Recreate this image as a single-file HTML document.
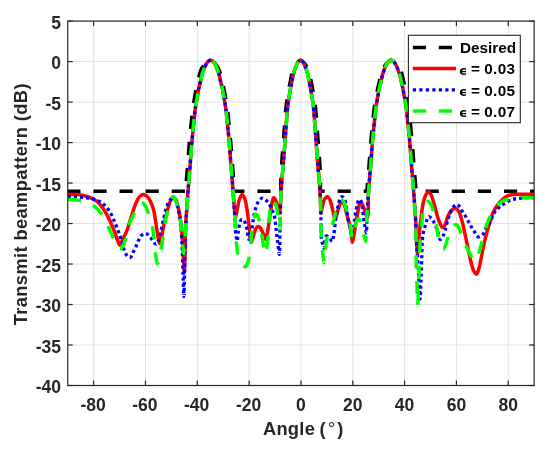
<!DOCTYPE html>
<html><head><meta charset="utf-8"><style>
html,body{margin:0;padding:0;background:#fff;width:550px;height:449px;overflow:hidden}
svg{display:block}
.tk{font-family:"Liberation Sans",Arial,sans-serif;font-weight:bold;font-size:17.5px;fill:#262626}
.al{font-family:"Liberation Sans",Arial,sans-serif;font-weight:bold;font-size:18.3px;fill:#262626}
.deg{font-family:"Liberation Sans",Arial,sans-serif;font-weight:normal;font-size:18px;fill:#262626}
.eps{font-family:"DejaVu Sans",sans-serif;font-weight:bold;font-size:12.8px;fill:#000}
.lg{font-family:"Liberation Sans",Arial,sans-serif;font-weight:bold;font-size:15.3px;fill:#000}
</style></head><body>
<svg width="550" height="449" viewBox="0 0 550 449">
<defs><clipPath id="axclip"><rect x="67.75" y="21.1" width="466.40" height="364.40"/></clipPath></defs>
<rect width="550" height="449" fill="#fff"/>
<line x1="93.66" y1="21.1" x2="93.66" y2="385.5" stroke="#e3e3e3" stroke-width="1"/>
<line x1="145.48" y1="21.1" x2="145.48" y2="385.5" stroke="#e3e3e3" stroke-width="1"/>
<line x1="197.31" y1="21.1" x2="197.31" y2="385.5" stroke="#e3e3e3" stroke-width="1"/>
<line x1="249.13" y1="21.1" x2="249.13" y2="385.5" stroke="#e3e3e3" stroke-width="1"/>
<line x1="300.95" y1="21.1" x2="300.95" y2="385.5" stroke="#e3e3e3" stroke-width="1"/>
<line x1="352.77" y1="21.1" x2="352.77" y2="385.5" stroke="#e3e3e3" stroke-width="1"/>
<line x1="404.59" y1="21.1" x2="404.59" y2="385.5" stroke="#e3e3e3" stroke-width="1"/>
<line x1="456.42" y1="21.1" x2="456.42" y2="385.5" stroke="#e3e3e3" stroke-width="1"/>
<line x1="508.24" y1="21.1" x2="508.24" y2="385.5" stroke="#e3e3e3" stroke-width="1"/>
<line x1="67.75" y1="61.59" x2="534.15" y2="61.59" stroke="#e3e3e3" stroke-width="1"/>
<line x1="67.75" y1="102.08" x2="534.15" y2="102.08" stroke="#e3e3e3" stroke-width="1"/>
<line x1="67.75" y1="142.57" x2="534.15" y2="142.57" stroke="#e3e3e3" stroke-width="1"/>
<line x1="67.75" y1="183.06" x2="534.15" y2="183.06" stroke="#e3e3e3" stroke-width="1"/>
<line x1="67.75" y1="223.54" x2="534.15" y2="223.54" stroke="#e3e3e3" stroke-width="1"/>
<line x1="67.75" y1="264.03" x2="534.15" y2="264.03" stroke="#e3e3e3" stroke-width="1"/>
<line x1="67.75" y1="304.52" x2="534.15" y2="304.52" stroke="#e3e3e3" stroke-width="1"/>
<line x1="67.75" y1="345.01" x2="534.15" y2="345.01" stroke="#e3e3e3" stroke-width="1"/>
<g clip-path="url(#axclip)">
<path d="M67.6,191.3 L185.41,191.3" fill="none" stroke="#000" stroke-width="3.4" stroke-dasharray="13.2 12.9" stroke-dashoffset="0.3"/>
<path d="M185.41,191.30 C185.73,187.37 186.01,183.64 186.35,179.50 C186.72,174.92 187.12,170.38 187.55,165.00 C188.09,158.24 188.67,149.34 189.30,142.10 C189.87,135.55 190.50,129.28 191.10,123.40 C191.63,118.15 192.04,113.33 192.70,108.50 C193.33,103.91 194.29,98.86 194.95,95.10 C195.43,92.36 195.76,90.29 196.25,88.00 C196.72,85.83 197.28,83.91 197.80,81.70 C198.38,79.26 198.86,76.34 199.55,74.00 C200.15,71.96 200.83,69.84 201.60,68.40 C202.14,67.39 202.75,66.75 203.35,66.00 C203.93,65.29 204.55,64.61 205.14,64.00 C205.66,63.45 206.20,62.94 206.69,62.50 C207.12,62.12 207.51,61.79 207.91,61.50 C208.27,61.24 208.57,61.01 208.97,60.80 C209.43,60.56 210.02,60.20 210.55,60.20 C211.08,60.20 211.68,60.56 212.13,60.80 C212.51,61.00 212.79,61.23 213.11,61.50 C213.48,61.79 213.82,62.12 214.19,62.50 C214.63,62.94 215.09,63.45 215.54,64.00 C216.03,64.61 216.55,65.29 217.03,66.00 C217.54,66.75 218.02,67.40 218.50,68.40 C219.20,69.85 219.95,71.96 220.55,74.00 C221.24,76.34 221.72,79.26 222.30,81.70 C222.82,83.91 223.38,85.83 223.85,88.00 C224.34,90.29 224.67,92.36 225.15,95.10 C225.81,98.86 226.77,103.91 227.40,108.50 C228.06,113.33 228.47,118.15 229.00,123.40 C229.60,129.28 230.23,135.55 230.80,142.10 C231.43,149.34 232.01,158.24 232.55,165.00 C232.98,170.38 233.38,174.92 233.75,179.50 C234.09,183.64 234.37,187.37 234.69,191.30" fill="none" stroke="#000" stroke-width="3.4" stroke-dasharray="13.2 12.9" stroke-dashoffset="15.8"/>
<path d="M234.69,191.3 L280.79,191.3" fill="none" stroke="#000" stroke-width="3.4" stroke-dasharray="13.2 12.9" stroke-dashoffset="3.4"/>
<path d="M280.79,191.30 C280.78,188.80 280.70,186.86 280.75,183.80 C280.84,178.95 281.17,171.57 281.55,165.00 C281.97,157.74 282.71,149.35 283.25,142.10 C283.74,135.55 284.20,129.28 284.65,123.40 C285.05,118.15 285.27,113.33 285.80,108.50 C286.30,103.91 287.10,98.86 287.70,95.10 C288.14,92.36 288.52,90.29 288.95,88.00 C289.36,85.84 289.76,83.90 290.20,81.70 C290.69,79.26 291.14,76.35 291.75,74.00 C292.28,71.97 292.95,69.80 293.55,68.40 C293.94,67.51 294.32,66.97 294.71,66.30 C295.09,65.67 295.45,65.06 295.85,64.50 C296.22,63.97 296.65,63.44 297.01,63.00 C297.32,62.63 297.57,62.32 297.89,62.00 C298.23,61.66 298.58,61.29 299.00,61.00 C299.46,60.68 300.03,60.20 300.55,60.20 C301.07,60.20 301.64,60.69 302.10,61.00 C302.54,61.29 302.91,61.66 303.27,62.00 C303.61,62.32 303.87,62.63 304.20,63.00 C304.59,63.44 305.05,63.97 305.45,64.50 C305.88,65.06 306.28,65.67 306.69,66.30 C307.12,66.97 307.54,67.50 307.95,68.40 C308.58,69.79 309.22,71.97 309.75,74.00 C310.36,76.35 310.81,79.26 311.30,81.70 C311.74,83.90 312.14,85.84 312.55,88.00 C312.98,90.29 313.36,92.36 313.80,95.10 C314.40,98.86 315.20,103.91 315.70,108.50 C316.23,113.33 316.45,118.15 316.85,123.40 C317.30,129.28 317.76,135.55 318.25,142.10 C318.79,149.35 319.57,157.74 319.95,165.00 C320.30,171.57 320.51,178.95 320.53,183.80 C320.55,186.86 320.44,188.80 320.39,191.30" fill="none" stroke="#000" stroke-width="3.4" stroke-dasharray="13.2 12.9" stroke-dashoffset="25.5"/>
<path d="M320.39,191.3 L366.86,191.3" fill="none" stroke="#000" stroke-width="3.4" stroke-dasharray="13.2 12.9" stroke-dashoffset="8.9"/>
<path d="M366.86,191.30 C367.18,187.37 367.46,183.64 367.80,179.50 C368.17,174.92 368.57,170.38 369.00,165.00 C369.54,158.24 370.12,149.34 370.75,142.10 C371.32,135.55 371.95,129.28 372.55,123.40 C373.08,118.15 373.49,113.33 374.15,108.50 C374.78,103.91 375.74,98.86 376.40,95.10 C376.88,92.36 377.21,90.29 377.70,88.00 C378.17,85.83 378.73,83.91 379.25,81.70 C379.83,79.26 380.31,76.34 381.00,74.00 C381.60,71.96 382.34,69.85 383.05,68.40 C383.54,67.40 384.03,66.75 384.55,66.00 C385.04,65.29 385.56,64.61 386.07,64.00 C386.53,63.45 387.00,62.94 387.44,62.50 C387.81,62.12 388.16,61.79 388.53,61.50 C388.86,61.23 389.14,61.00 389.52,60.80 C389.97,60.56 390.57,60.20 391.10,60.20 C391.63,60.20 392.22,60.56 392.68,60.80 C393.08,61.01 393.37,61.24 393.73,61.50 C394.12,61.79 394.52,62.12 394.94,62.50 C395.43,62.94 395.95,63.45 396.47,64.00 C397.05,64.61 397.66,65.29 398.23,66.00 C398.82,66.75 399.41,67.39 399.95,68.40 C400.71,69.84 401.40,71.96 402.00,74.00 C402.69,76.34 403.17,79.26 403.75,81.70 C404.27,83.91 404.83,85.83 405.30,88.00 C405.79,90.29 406.12,92.36 406.60,95.10 C407.26,98.86 408.22,103.91 408.85,108.50 C409.51,113.33 409.92,118.15 410.45,123.40 C411.05,129.28 411.68,135.55 412.25,142.10 C412.88,149.34 413.46,158.24 414.00,165.00 C414.43,170.38 414.83,174.92 415.20,179.50 C415.54,183.64 415.82,187.37 416.14,191.30" fill="none" stroke="#000" stroke-width="3.4" stroke-dasharray="13.2 12.9" stroke-dashoffset="4.6"/>
<path d="M416.14,191.3 L534.5,191.3" fill="none" stroke="#000" stroke-width="3.4" stroke-dasharray="13.2 12.9" stroke-dashoffset="16.6"/>
<path d="M67.80,194.40 C69.87,194.40 72.01,194.34 74.00,194.40 C75.86,194.45 77.37,194.40 79.40,194.70 C82.10,195.10 85.78,195.89 88.70,197.00 C91.54,198.08 94.31,199.30 96.70,201.20 C99.25,203.23 101.40,206.18 103.40,209.00 C105.45,211.90 107.09,215.02 108.80,218.40 C110.68,222.13 112.58,226.63 114.10,230.50 C115.46,233.97 116.51,237.79 117.60,240.50 C118.37,242.41 119.01,245.29 119.80,245.30 C120.67,245.31 121.57,241.60 122.60,239.50 C123.83,236.98 125.48,234.24 126.70,231.20 C128.09,227.75 128.96,223.92 130.30,219.80 C131.90,214.89 133.84,207.95 135.70,203.70 C137.00,200.72 138.09,197.95 139.70,196.40 C140.88,195.26 142.40,194.34 143.70,194.40 C145.00,194.46 146.38,195.65 147.50,196.80 C148.88,198.21 150.01,200.49 151.00,202.60 C152.07,204.87 152.86,207.18 153.60,210.00 C154.54,213.57 155.08,218.03 155.80,222.40 C156.61,227.30 157.41,234.14 158.20,238.00 C158.67,240.31 159.09,243.49 159.60,243.50 C160.12,243.51 160.74,240.24 161.30,238.00 C162.15,234.62 162.80,229.62 163.80,225.10 C164.92,220.04 166.48,213.67 167.80,209.10 C168.81,205.62 169.66,202.15 170.80,200.00 C171.51,198.65 172.26,197.07 173.10,197.00 C173.93,196.93 175.03,198.24 175.80,199.50 C177.10,201.62 177.78,205.77 178.60,209.50 C179.61,214.10 180.45,219.86 181.10,225.10 C181.75,230.36 182.10,235.33 182.50,241.00 C182.96,247.51 183.26,256.12 183.60,262.00 C183.85,266.26 184.10,273.00 184.30,273.00 C184.54,273.00 184.70,264.04 184.90,258.00 C185.21,248.77 185.43,232.13 185.85,223.00 C186.12,217.12 186.48,213.33 186.80,208.50 C187.13,203.67 187.44,198.83 187.80,194.00 C188.16,189.17 188.56,184.33 188.95,179.50 C189.34,174.67 189.72,170.38 190.15,165.00 C190.69,158.24 191.27,149.34 191.90,142.10 C192.47,135.55 193.10,129.28 193.70,123.40 C194.23,118.15 194.64,113.33 195.30,108.50 C195.93,103.91 196.89,98.86 197.55,95.10 C198.03,92.36 198.36,90.29 198.85,88.00 C199.32,85.83 199.88,83.91 200.40,81.70 C200.98,79.26 201.46,76.34 202.15,74.00 C202.75,71.96 203.62,69.87 204.20,68.40 C204.58,67.43 204.85,66.76 205.21,66.00 C205.54,65.30 205.89,64.61 206.25,64.00 C206.57,63.45 206.92,62.94 207.25,62.50 C207.53,62.12 207.80,61.79 208.10,61.50 C208.38,61.23 208.62,61.00 208.97,60.80 C209.40,60.55 210.02,60.20 210.55,60.20 C211.08,60.20 211.70,60.55 212.13,60.80 C212.48,61.00 212.72,61.23 213.00,61.50 C213.30,61.79 213.57,62.12 213.85,62.50 C214.18,62.94 214.53,63.45 214.85,64.00 C215.21,64.61 215.56,65.30 215.89,66.00 C216.25,66.76 216.52,67.43 216.90,68.40 C217.48,69.87 218.35,71.96 218.95,74.00 C219.64,76.34 220.12,79.26 220.70,81.70 C221.22,83.91 221.78,85.83 222.25,88.00 C222.74,90.29 223.07,92.36 223.55,95.10 C224.21,98.86 225.17,103.91 225.80,108.50 C226.46,113.33 226.87,118.15 227.40,123.40 C228.00,129.28 228.63,135.55 229.20,142.10 C229.83,149.34 230.41,158.24 230.95,165.00 C231.38,170.38 231.76,174.67 232.15,179.50 C232.54,184.33 232.94,189.17 233.30,194.00 C233.66,198.83 233.81,204.32 234.30,208.50 C234.68,211.72 235.19,216.99 235.70,217.00 C236.19,217.01 236.72,211.78 237.30,209.00 C237.94,205.97 238.44,202.09 239.40,199.50 C240.12,197.54 241.09,194.67 242.00,194.60 C242.80,194.54 243.79,196.43 244.50,198.00 C245.68,200.62 246.26,205.14 247.00,209.50 C247.96,215.13 248.68,223.12 249.40,229.00 C249.99,233.86 250.18,242.18 251.00,242.30 C251.45,242.37 252.09,240.00 252.60,238.60 C253.24,236.84 253.75,234.37 254.40,232.50 C254.96,230.87 255.44,229.04 256.20,228.00 C256.73,227.28 257.36,226.57 258.00,226.50 C258.63,226.43 259.38,226.91 260.00,227.50 C260.94,228.40 261.69,230.30 262.50,232.00 C263.50,234.09 264.58,239.24 265.40,239.20 C266.15,239.17 266.76,235.28 267.30,233.00 C267.94,230.30 268.30,227.22 268.80,224.00 C269.37,220.29 269.91,215.81 270.50,212.00 C271.04,208.51 271.50,204.63 272.20,202.00 C272.67,200.21 273.16,197.68 273.80,197.60 C274.33,197.53 275.06,199.09 275.60,200.20 C276.39,201.80 276.99,204.33 277.60,206.50 C278.23,208.76 278.85,213.52 279.30,213.50 C279.69,213.49 279.98,210.01 280.20,208.00 C280.46,205.59 280.47,203.13 280.65,200.00 C280.90,195.54 281.14,189.40 281.55,183.80 C281.99,177.76 282.71,171.58 283.25,165.00 C283.85,157.75 284.41,149.35 284.95,142.10 C285.44,135.55 285.90,129.28 286.35,123.40 C286.75,118.15 286.97,113.33 287.50,108.50 C288.00,103.91 288.80,98.86 289.40,95.10 C289.84,92.36 290.22,90.29 290.65,88.00 C291.06,85.84 291.46,83.90 291.90,81.70 C292.39,79.26 292.84,76.35 293.45,74.00 C293.98,71.97 294.77,69.81 295.25,68.40 C295.55,67.53 295.75,66.97 296.00,66.30 C296.23,65.68 296.44,65.07 296.70,64.50 C296.94,63.97 297.24,63.45 297.50,63.00 C297.72,62.63 297.89,62.32 298.13,62.00 C298.39,61.66 298.64,61.29 299.00,61.00 C299.42,60.67 300.03,60.20 300.55,60.20 C301.07,60.20 301.68,60.67 302.10,61.00 C302.46,61.29 302.71,61.66 302.97,62.00 C303.21,62.32 303.38,62.63 303.60,63.00 C303.86,63.45 304.16,63.97 304.40,64.50 C304.66,65.07 304.87,65.68 305.10,66.30 C305.35,66.97 305.55,67.53 305.85,68.40 C306.33,69.81 307.12,71.97 307.65,74.00 C308.26,76.35 308.71,79.26 309.20,81.70 C309.64,83.90 310.04,85.84 310.45,88.00 C310.88,90.29 311.26,92.36 311.70,95.10 C312.30,98.86 313.10,103.91 313.60,108.50 C314.13,113.33 314.35,118.15 314.75,123.40 C315.20,129.28 315.66,135.55 316.15,142.10 C316.69,149.35 317.25,157.75 317.85,165.00 C318.39,171.58 319.11,177.76 319.55,183.80 C319.96,189.40 320.20,194.87 320.45,200.00 C320.68,204.65 320.54,213.26 321.00,213.30 C321.34,213.33 321.89,208.38 322.50,206.00 C323.10,203.68 323.58,200.89 324.60,199.20 C325.36,197.94 326.51,196.32 327.40,196.40 C328.39,196.49 329.39,198.71 330.20,200.50 C331.42,203.20 332.09,208.19 333.00,211.50 C333.75,214.25 334.40,218.99 335.20,219.00 C336.06,219.01 337.08,213.07 338.00,210.30 C338.84,207.76 339.49,204.48 340.50,203.00 C341.08,202.16 341.81,201.29 342.40,201.40 C343.21,201.56 343.97,203.86 344.60,205.50 C345.45,207.70 345.85,210.69 346.60,213.60 C347.48,217.01 348.81,221.05 349.60,224.70 C350.36,228.18 350.83,231.86 351.30,235.00 C351.70,237.64 351.88,242.28 352.30,242.30 C352.67,242.32 353.15,239.18 353.60,237.00 C354.30,233.56 355.05,227.96 355.80,223.60 C356.52,219.44 357.28,215.01 358.00,211.40 C358.58,208.50 358.79,204.96 359.70,203.60 C360.15,202.93 360.80,202.37 361.30,202.50 C362.05,202.69 362.66,204.95 363.30,206.50 C364.12,208.48 364.87,211.43 365.60,213.50 C366.19,215.17 366.86,218.04 367.30,218.00 C367.79,217.95 368.09,214.55 368.30,212.00 C368.67,207.62 368.12,199.67 368.35,194.00 C368.56,188.90 369.11,184.33 369.50,179.50 C369.89,174.67 370.27,170.38 370.70,165.00 C371.24,158.24 371.82,149.34 372.45,142.10 C373.02,135.55 373.65,129.28 374.25,123.40 C374.78,118.15 375.19,113.33 375.85,108.50 C376.48,103.91 377.44,98.86 378.10,95.10 C378.58,92.36 378.91,90.29 379.40,88.00 C379.87,85.83 380.43,83.91 380.95,81.70 C381.53,79.26 382.01,76.34 382.70,74.00 C383.30,71.96 384.17,69.87 384.75,68.40 C385.13,67.43 385.40,66.76 385.76,66.00 C386.09,65.30 386.44,64.61 386.80,64.00 C387.12,63.45 387.47,62.94 387.80,62.50 C388.08,62.12 388.35,61.79 388.65,61.50 C388.93,61.23 389.17,61.00 389.52,60.80 C389.95,60.55 390.57,60.20 391.10,60.20 C391.63,60.20 392.25,60.55 392.68,60.80 C393.03,61.00 393.27,61.23 393.55,61.50 C393.85,61.79 394.12,62.12 394.40,62.50 C394.73,62.94 395.08,63.45 395.40,64.00 C395.76,64.61 396.11,65.30 396.44,66.00 C396.80,66.76 397.07,67.43 397.45,68.40 C398.03,69.87 398.90,71.96 399.50,74.00 C400.19,76.34 400.67,79.26 401.25,81.70 C401.77,83.91 402.33,85.83 402.80,88.00 C403.29,90.29 403.62,92.36 404.10,95.10 C404.76,98.86 405.72,103.91 406.35,108.50 C407.01,113.33 407.42,118.15 407.95,123.40 C408.55,129.28 409.18,135.55 409.75,142.10 C410.38,149.34 410.96,158.24 411.50,165.00 C411.93,170.38 412.31,174.67 412.70,179.50 C413.09,184.33 413.49,189.17 413.85,194.00 C414.21,198.83 414.52,203.67 414.85,208.50 C415.17,213.33 415.51,217.61 415.80,223.00 C416.17,229.78 416.40,240.27 416.80,246.00 C417.04,249.43 417.32,254.20 417.60,254.20 C417.86,254.20 418.15,249.84 418.40,247.00 C418.76,242.91 418.95,236.87 419.40,232.00 C419.83,227.35 420.36,223.21 421.00,218.40 C421.73,212.95 422.48,205.36 423.60,201.00 C424.30,198.27 425.02,196.13 426.00,194.50 C426.71,193.32 427.59,191.82 428.40,191.80 C429.19,191.78 430.11,193.11 430.80,194.20 C431.78,195.73 432.26,197.89 433.10,200.50 C434.43,204.65 436.26,212.57 437.60,216.80 C438.47,219.54 439.10,221.58 440.00,223.50 C440.73,225.07 441.50,227.48 442.40,227.60 C443.19,227.70 444.24,226.24 445.00,225.00 C446.19,223.07 446.63,219.04 447.80,216.50 C448.84,214.23 450.02,211.79 451.50,210.40 C452.68,209.29 454.28,208.10 455.50,208.30 C456.79,208.52 458.00,210.32 459.00,212.00 C460.44,214.41 461.33,218.49 462.30,222.00 C463.35,225.79 464.06,229.65 465.00,234.00 C466.11,239.15 467.35,245.63 468.50,250.90 C469.51,255.55 470.54,260.41 471.50,264.00 C472.19,266.56 472.58,268.70 473.50,270.50 C474.26,271.99 475.47,274.27 476.30,274.20 C477.14,274.13 477.86,271.72 478.50,270.00 C479.41,267.55 479.97,264.05 480.70,260.70 C481.54,256.80 482.37,251.98 483.20,248.00 C483.94,244.46 484.49,241.59 485.40,238.00 C486.48,233.73 488.02,228.55 489.40,224.10 C490.69,219.94 491.73,215.69 493.40,212.10 C494.90,208.87 496.89,205.73 498.70,203.40 C500.11,201.59 501.57,200.26 503.00,199.00 C504.24,197.91 505.20,196.93 506.70,196.20 C508.53,195.30 511.16,194.73 513.40,194.40 C515.59,194.08 517.39,194.24 520.00,194.20 C523.80,194.14 529.33,194.20 534.00,194.20" fill="none" stroke="#ff0000" stroke-width="3.5" stroke-linejoin="round"/>
<path d="M67.80,196.60 C70.20,196.67 72.62,196.66 75.00,196.80 C77.35,196.93 79.76,197.19 82.00,197.40 C84.08,197.59 86.01,197.69 88.00,198.00 C90.01,198.32 91.95,198.66 94.00,199.30 C96.27,200.01 99.01,200.95 101.00,202.20 C102.77,203.31 104.06,204.65 105.50,206.20 C107.11,207.93 108.64,209.77 110.10,212.20 C112.02,215.39 113.87,220.06 115.50,224.00 C117.09,227.83 118.63,232.06 119.80,235.50 C120.74,238.25 121.35,240.54 122.10,243.00 C122.82,245.37 123.34,247.83 124.20,250.00 C125.00,252.01 125.83,254.30 127.00,255.60 C127.90,256.60 129.18,257.83 130.10,257.60 C131.28,257.31 132.13,254.14 133.10,252.30 C134.13,250.35 135.15,248.27 136.10,246.20 C137.06,244.11 137.82,241.70 138.80,239.80 C139.64,238.16 140.42,236.48 141.50,235.40 C142.41,234.49 143.50,233.64 144.60,233.50 C145.70,233.36 147.00,233.84 148.10,234.60 C149.56,235.61 150.74,238.07 152.10,239.70 C153.41,241.27 154.98,244.28 156.10,244.20 C157.06,244.13 157.82,242.01 158.50,240.50 C159.41,238.49 159.99,235.55 160.60,233.00 C161.23,230.39 161.65,227.57 162.20,225.00 C162.72,222.59 163.19,220.55 163.80,218.00 C164.55,214.89 165.30,210.79 166.40,207.70 C167.36,205.01 168.40,201.96 169.80,200.40 C170.77,199.32 172.12,198.31 173.10,198.40 C174.00,198.48 174.83,199.52 175.50,200.50 C176.41,201.82 176.89,203.80 177.50,206.00 C178.37,209.11 179.20,213.65 179.80,217.50 C180.40,221.35 180.73,224.66 181.10,229.10 C181.59,235.04 181.87,242.46 182.20,250.00 C182.59,258.88 182.89,270.55 183.20,279.00 C183.44,285.57 183.68,296.50 183.90,296.50 C184.15,296.50 184.41,281.18 184.60,273.00 C184.81,264.08 184.87,253.77 185.10,245.00 C185.30,237.22 185.52,229.57 185.85,223.00 C186.12,217.66 186.48,213.33 186.80,208.50 C187.13,203.67 187.44,198.83 187.80,194.00 C188.16,189.17 188.56,184.33 188.95,179.50 C189.34,174.67 189.72,170.38 190.15,165.00 C190.69,158.24 191.27,149.34 191.90,142.10 C192.47,135.55 193.10,129.28 193.70,123.40 C194.23,118.15 194.64,113.33 195.30,108.50 C195.93,103.91 196.89,98.86 197.55,95.10 C198.03,92.36 198.36,90.29 198.85,88.00 C199.32,85.83 199.88,83.91 200.40,81.70 C200.98,79.26 201.46,76.34 202.15,74.00 C202.75,71.96 203.62,69.87 204.20,68.40 C204.58,67.43 204.85,66.76 205.21,66.00 C205.54,65.30 205.89,64.61 206.25,64.00 C206.57,63.45 206.92,62.94 207.25,62.50 C207.53,62.12 207.80,61.79 208.10,61.50 C208.38,61.23 208.62,61.00 208.97,60.80 C209.40,60.55 210.02,60.20 210.55,60.20 C211.08,60.20 211.70,60.55 212.13,60.80 C212.48,61.00 212.72,61.23 213.00,61.50 C213.30,61.79 213.57,62.12 213.85,62.50 C214.18,62.94 214.53,63.45 214.85,64.00 C215.21,64.61 215.56,65.30 215.89,66.00 C216.25,66.76 216.52,67.43 216.90,68.40 C217.48,69.87 218.35,71.96 218.95,74.00 C219.64,76.34 220.12,79.26 220.70,81.70 C221.22,83.91 221.78,85.83 222.25,88.00 C222.74,90.29 223.07,92.36 223.55,95.10 C224.21,98.86 225.17,103.91 225.80,108.50 C226.46,113.33 226.87,118.15 227.40,123.40 C228.00,129.28 228.63,135.55 229.20,142.10 C229.83,149.34 230.41,158.24 230.95,165.00 C231.38,170.38 231.76,174.67 232.15,179.50 C232.54,184.33 232.94,189.17 233.30,194.00 C233.66,198.83 233.97,203.16 234.30,208.50 C234.71,215.07 235.05,225.22 235.50,230.50 C235.75,233.49 235.97,235.57 236.30,237.50 C236.53,238.87 236.84,241.01 237.10,241.00 C237.51,240.98 237.85,235.00 238.30,232.00 C238.75,229.00 239.08,225.27 239.80,223.00 C240.27,221.52 240.75,219.89 241.50,219.50 C242.01,219.23 242.75,219.42 243.30,219.80 C244.15,220.38 244.89,222.00 245.50,223.50 C246.32,225.51 246.77,228.43 247.30,231.00 C247.85,233.69 248.03,239.20 248.70,239.30 C249.14,239.36 249.83,237.34 250.30,236.00 C250.96,234.13 251.43,231.52 251.90,229.00 C252.45,226.08 252.81,222.42 253.30,219.50 C253.72,216.98 254.08,214.73 254.60,212.50 C255.09,210.41 255.62,208.42 256.30,206.50 C256.96,204.66 257.52,202.62 258.60,201.20 C259.58,199.91 261.07,198.33 262.30,198.20 C263.37,198.08 264.54,199.10 265.50,199.80 C266.48,200.52 267.28,201.43 268.10,202.50 C269.07,203.76 270.01,205.46 270.80,207.00 C271.58,208.52 272.20,210.11 272.80,211.70 C273.40,213.28 273.98,214.75 274.40,216.50 C274.88,218.51 275.11,220.93 275.40,223.10 C275.68,225.20 275.86,227.17 276.10,229.30 C276.36,231.56 276.62,234.11 276.90,236.30 C277.15,238.25 277.45,239.85 277.70,241.80 C277.98,243.99 278.22,246.59 278.50,248.80 C278.75,250.80 279.09,254.51 279.30,254.50 C279.55,254.49 279.69,249.28 279.80,246.00 C279.95,241.50 279.87,235.25 279.95,230.00 C280.02,224.92 280.13,220.00 280.25,215.00 C280.37,210.00 280.44,205.09 280.65,200.00 C280.87,194.70 281.14,189.40 281.55,183.80 C281.99,177.76 282.71,171.58 283.25,165.00 C283.85,157.75 284.41,149.35 284.95,142.10 C285.44,135.55 285.90,129.28 286.35,123.40 C286.75,118.15 286.97,113.33 287.50,108.50 C288.00,103.91 288.80,98.86 289.40,95.10 C289.84,92.36 290.22,90.29 290.65,88.00 C291.06,85.84 291.46,83.90 291.90,81.70 C292.39,79.26 292.84,76.35 293.45,74.00 C293.98,71.97 294.77,69.81 295.25,68.40 C295.55,67.53 295.75,66.97 296.00,66.30 C296.23,65.68 296.44,65.07 296.70,64.50 C296.94,63.97 297.24,63.45 297.50,63.00 C297.72,62.63 297.89,62.32 298.13,62.00 C298.39,61.66 298.64,61.29 299.00,61.00 C299.42,60.67 300.03,60.20 300.55,60.20 C301.07,60.20 301.68,60.67 302.10,61.00 C302.46,61.29 302.71,61.66 302.97,62.00 C303.21,62.32 303.38,62.63 303.60,63.00 C303.86,63.45 304.16,63.97 304.40,64.50 C304.66,65.07 304.87,65.68 305.10,66.30 C305.35,66.97 305.55,67.53 305.85,68.40 C306.33,69.81 307.12,71.97 307.65,74.00 C308.26,76.35 308.71,79.26 309.20,81.70 C309.64,83.90 310.04,85.84 310.45,88.00 C310.88,90.29 311.26,92.36 311.70,95.10 C312.30,98.86 313.10,103.91 313.60,108.50 C314.13,113.33 314.35,118.15 314.75,123.40 C315.20,129.28 315.66,135.55 316.15,142.10 C316.69,149.35 317.25,157.75 317.85,165.00 C318.39,171.58 319.11,177.76 319.55,183.80 C319.96,189.40 320.23,194.70 320.45,200.00 C320.66,205.09 320.73,210.00 320.85,215.00 C320.97,220.00 321.07,225.94 321.15,230.00 C321.21,232.77 321.07,234.72 321.30,237.00 C321.53,239.22 321.99,241.51 322.50,243.50 C322.95,245.24 323.70,248.34 324.10,248.30 C324.59,248.25 324.60,243.19 325.00,241.00 C325.33,239.17 325.45,236.45 326.20,236.00 C326.62,235.74 327.29,236.08 327.80,236.40 C328.51,236.84 329.08,238.00 329.80,238.80 C330.57,239.66 331.68,241.57 332.30,241.40 C333.07,241.19 333.24,237.89 333.60,236.00 C333.99,233.94 334.16,232.08 334.50,229.50 C334.99,225.72 335.50,219.87 336.20,215.50 C336.83,211.60 337.60,207.67 338.40,204.50 C339.02,202.03 339.50,199.30 340.40,198.00 C340.92,197.24 341.58,196.56 342.20,196.60 C342.94,196.65 343.89,197.88 344.50,199.00 C345.40,200.65 345.73,203.52 346.20,206.00 C346.72,208.75 346.98,212.02 347.40,214.80 C347.78,217.32 348.08,219.69 348.60,222.00 C349.09,224.18 349.67,226.57 350.40,228.30 C350.96,229.62 351.78,231.66 352.30,231.60 C352.86,231.54 353.24,229.09 353.60,227.50 C354.07,225.39 354.25,222.58 354.60,220.00 C354.98,217.23 355.32,214.10 355.80,211.40 C356.23,208.96 356.72,206.61 357.30,204.50 C357.81,202.66 358.24,199.60 359.00,199.40 C359.51,199.26 360.31,200.22 360.80,201.00 C361.51,202.14 361.83,204.07 362.20,206.00 C362.69,208.55 362.81,211.92 363.20,215.00 C363.61,218.25 364.03,221.86 364.60,225.00 C365.11,227.83 366.02,233.03 366.40,233.00 C366.83,232.96 366.65,225.89 366.80,222.00 C366.97,217.61 367.14,212.67 367.40,208.00 C367.66,203.33 368.00,198.71 368.35,194.00 C368.70,189.21 369.11,184.33 369.50,179.50 C369.89,174.67 370.27,170.38 370.70,165.00 C371.24,158.24 371.82,149.34 372.45,142.10 C373.02,135.55 373.65,129.28 374.25,123.40 C374.78,118.15 375.19,113.33 375.85,108.50 C376.48,103.91 377.44,98.86 378.10,95.10 C378.58,92.36 378.91,90.29 379.40,88.00 C379.87,85.83 380.43,83.91 380.95,81.70 C381.53,79.26 382.01,76.34 382.70,74.00 C383.30,71.96 384.17,69.87 384.75,68.40 C385.13,67.43 385.40,66.76 385.76,66.00 C386.09,65.30 386.44,64.61 386.80,64.00 C387.12,63.45 387.47,62.94 387.80,62.50 C388.08,62.12 388.35,61.79 388.65,61.50 C388.93,61.23 389.17,61.00 389.52,60.80 C389.95,60.55 390.57,60.20 391.10,60.20 C391.63,60.20 392.25,60.55 392.68,60.80 C393.03,61.00 393.27,61.23 393.55,61.50 C393.85,61.79 394.12,62.12 394.40,62.50 C394.73,62.94 395.08,63.45 395.40,64.00 C395.76,64.61 396.11,65.30 396.44,66.00 C396.80,66.76 397.07,67.43 397.45,68.40 C398.03,69.87 398.90,71.96 399.50,74.00 C400.19,76.34 400.67,79.26 401.25,81.70 C401.77,83.91 402.33,85.83 402.80,88.00 C403.29,90.29 403.62,92.36 404.10,95.10 C404.76,98.86 405.72,103.91 406.35,108.50 C407.01,113.33 407.42,118.15 407.95,123.40 C408.55,129.28 409.18,135.55 409.75,142.10 C410.38,149.34 410.96,158.24 411.50,165.00 C411.93,170.38 412.31,174.67 412.70,179.50 C413.09,184.33 413.49,189.17 413.85,194.00 C414.21,198.83 414.52,203.67 414.85,208.50 C415.17,213.33 415.56,217.97 415.80,223.00 C416.06,228.44 416.00,234.51 416.30,240.00 C416.58,245.16 417.12,249.47 417.50,255.00 C417.97,261.85 418.37,270.51 418.80,278.00 C419.21,285.16 419.62,299.00 420.00,299.00 C420.35,299.00 420.72,287.23 421.00,281.00 C421.30,274.27 421.46,266.91 421.70,260.00 C421.93,253.25 421.91,245.43 422.40,240.00 C422.74,236.24 423.15,233.27 423.80,230.50 C424.32,228.28 425.09,226.59 425.70,224.60 C426.32,222.59 426.74,219.91 427.50,218.50 C427.97,217.62 428.51,216.67 429.10,216.60 C429.68,216.53 430.39,217.41 431.00,218.00 C431.73,218.70 432.38,219.40 433.10,220.60 C434.36,222.70 435.88,226.84 437.10,230.00 C438.31,233.14 439.17,239.31 440.40,239.50 C441.21,239.62 442.26,237.36 443.00,236.00 C443.87,234.42 444.42,232.65 445.10,230.50 C446.03,227.58 446.82,223.19 447.80,220.00 C448.64,217.27 449.57,214.69 450.50,212.50 C451.25,210.73 451.78,209.15 452.80,207.80 C453.79,206.49 455.30,204.58 456.50,204.50 C457.52,204.43 458.61,205.56 459.50,206.50 C460.60,207.67 461.28,209.64 462.30,211.30 C463.43,213.13 464.81,214.97 466.00,217.00 C467.28,219.19 468.38,221.69 469.70,224.00 C471.04,226.36 472.53,228.80 474.00,231.00 C475.37,233.05 476.59,236.41 478.20,236.80 C479.55,237.12 481.40,235.79 482.70,234.50 C484.43,232.77 485.42,228.69 486.80,226.50 C487.86,224.82 488.97,224.05 490.00,222.30 C491.43,219.87 492.70,215.12 494.10,213.00 C494.96,211.70 495.75,211.23 496.70,210.20 C497.85,208.94 499.05,207.17 500.50,206.00 C501.95,204.83 503.64,204.18 505.40,203.20 C507.43,202.07 509.61,200.42 512.00,199.60 C514.49,198.75 517.20,198.64 520.10,198.30 C523.41,197.91 528.28,197.59 530.80,197.50 C532.18,197.45 532.93,197.50 534.00,197.50" fill="none" stroke="#0000ff" stroke-width="3.3" stroke-dasharray="3.1 3.0"/>
<path d="M67.80,199.20 C71.67,199.60 76.09,199.83 79.40,200.40 C81.92,200.83 83.83,201.26 86.00,202.00 C88.26,202.77 90.50,203.49 92.70,205.00 C95.45,206.88 98.71,210.28 100.80,213.00 C102.56,215.29 103.49,217.59 104.80,220.00 C106.16,222.51 107.57,225.19 108.80,227.80 C110.00,230.35 110.92,232.92 112.10,235.50 C113.32,238.16 114.80,241.30 116.00,243.50 C116.88,245.12 117.72,246.60 118.50,247.60 C119.02,248.26 119.45,249.12 120.00,249.10 C120.74,249.08 121.72,247.49 122.50,246.30 C123.56,244.68 124.50,242.60 125.40,240.00 C126.74,236.14 127.56,229.45 129.00,225.10 C130.17,221.55 131.61,218.65 133.00,215.70 C134.28,212.98 135.64,210.10 137.00,208.00 C138.05,206.39 139.13,204.83 140.20,204.00 C140.93,203.43 141.68,202.90 142.40,203.00 C143.22,203.11 144.07,204.02 144.80,205.00 C145.92,206.50 146.77,209.41 147.70,211.70 C148.67,214.07 149.71,216.54 150.50,219.00 C151.28,221.44 151.88,223.77 152.40,226.40 C152.98,229.33 153.28,232.24 153.70,235.80 C154.25,240.47 154.59,247.06 155.30,252.00 C155.90,256.20 156.72,263.57 157.50,263.60 C158.14,263.62 158.87,258.65 159.50,256.00 C160.18,253.13 160.86,249.82 161.40,247.00 C161.87,244.53 162.15,242.87 162.60,240.00 C163.31,235.47 163.99,228.10 165.10,222.40 C166.17,216.91 167.90,210.61 169.10,206.40 C169.89,203.61 170.48,201.27 171.30,199.50 C171.86,198.28 172.44,196.65 173.10,196.60 C173.74,196.55 174.60,197.94 175.20,199.00 C176.04,200.49 176.48,202.82 177.10,205.00 C177.83,207.58 178.57,210.43 179.20,213.50 C179.93,217.05 180.57,220.92 181.10,225.10 C181.71,229.97 182.02,236.02 182.50,241.00 C182.92,245.42 183.41,253.50 183.80,253.50 C184.21,253.50 184.57,244.76 184.90,240.00 C185.27,234.66 185.52,228.44 185.85,223.00 C186.16,217.97 186.48,213.33 186.80,208.50 C187.13,203.67 187.44,198.83 187.80,194.00 C188.16,189.17 188.56,184.33 188.95,179.50 C189.34,174.67 189.72,170.38 190.15,165.00 C190.69,158.24 191.27,149.34 191.90,142.10 C192.47,135.55 193.10,129.28 193.70,123.40 C194.23,118.15 194.64,113.33 195.30,108.50 C195.93,103.91 196.89,98.86 197.55,95.10 C198.03,92.36 198.36,90.29 198.85,88.00 C199.32,85.83 199.88,83.91 200.40,81.70 C200.98,79.26 201.46,76.34 202.15,74.00 C202.75,71.96 203.62,69.87 204.20,68.40 C204.58,67.43 204.85,66.76 205.21,66.00 C205.54,65.30 205.89,64.61 206.25,64.00 C206.57,63.45 206.92,62.94 207.25,62.50 C207.53,62.12 207.80,61.79 208.10,61.50 C208.38,61.23 208.62,61.00 208.97,60.80 C209.40,60.55 210.02,60.20 210.55,60.20 C211.08,60.20 211.70,60.55 212.13,60.80 C212.48,61.00 212.72,61.23 213.00,61.50 C213.30,61.79 213.57,62.12 213.85,62.50 C214.18,62.94 214.53,63.45 214.85,64.00 C215.21,64.61 215.56,65.30 215.89,66.00 C216.25,66.76 216.52,67.43 216.90,68.40 C217.48,69.87 218.35,71.96 218.95,74.00 C219.64,76.34 220.12,79.26 220.70,81.70 C221.22,83.91 221.78,85.83 222.25,88.00 C222.74,90.29 223.07,92.36 223.55,95.10 C224.21,98.86 225.17,103.91 225.80,108.50 C226.46,113.33 226.87,118.15 227.40,123.40 C228.00,129.28 228.63,135.55 229.20,142.10 C229.83,149.34 230.41,158.24 230.95,165.00 C231.38,170.38 231.76,174.67 232.15,179.50 C232.54,184.33 232.94,189.17 233.30,194.00 C233.66,198.83 233.97,203.67 234.30,208.50 C234.62,213.33 235.03,218.30 235.25,223.00 C235.46,227.45 235.32,232.01 235.60,236.00 C235.84,239.42 236.30,242.34 236.70,245.50 C237.10,248.67 237.31,252.37 238.00,255.00 C238.52,256.97 239.21,258.32 240.00,260.00 C240.85,261.81 241.85,264.38 243.00,265.50 C243.77,266.25 244.79,267.02 245.50,266.80 C246.39,266.53 247.00,264.48 247.60,263.00 C248.36,261.14 248.93,258.92 249.40,256.40 C250.01,253.14 250.23,248.77 250.60,245.00 C250.96,241.30 251.17,237.74 251.60,234.00 C252.06,230.08 252.54,225.57 253.30,222.00 C253.93,219.04 254.57,214.33 255.60,214.00 C256.16,213.82 256.94,214.68 257.50,215.50 C258.51,216.97 259.11,220.06 259.80,223.00 C260.74,227.02 261.45,233.06 262.20,237.50 C262.84,241.28 263.35,244.96 264.00,248.00 C264.50,250.38 265.11,254.32 265.60,254.30 C266.19,254.28 266.77,248.37 267.20,245.00 C267.71,241.04 268.01,236.08 268.30,232.00 C268.56,228.37 268.58,225.43 268.90,221.70 C269.29,217.23 269.68,210.89 270.60,207.00 C271.23,204.32 272.06,200.51 273.00,200.40 C273.77,200.31 274.90,202.68 275.60,204.30 C276.54,206.47 276.93,209.66 277.50,212.50 C278.11,215.54 278.69,219.07 279.10,222.00 C279.45,224.51 279.70,229.01 279.90,229.00 C280.14,228.99 280.19,222.12 280.30,218.00 C280.45,212.74 280.43,205.84 280.65,200.00 C280.86,194.46 281.14,189.40 281.55,183.80 C281.99,177.76 282.71,171.58 283.25,165.00 C283.85,157.75 284.41,149.35 284.95,142.10 C285.44,135.55 285.90,129.28 286.35,123.40 C286.75,118.15 286.97,113.33 287.50,108.50 C288.00,103.91 288.80,98.86 289.40,95.10 C289.84,92.36 290.22,90.29 290.65,88.00 C291.06,85.84 291.46,83.90 291.90,81.70 C292.39,79.26 292.84,76.35 293.45,74.00 C293.98,71.97 294.77,69.81 295.25,68.40 C295.55,67.53 295.75,66.97 296.00,66.30 C296.23,65.68 296.44,65.07 296.70,64.50 C296.94,63.97 297.24,63.45 297.50,63.00 C297.72,62.63 297.89,62.32 298.13,62.00 C298.39,61.66 298.64,61.29 299.00,61.00 C299.42,60.67 300.03,60.20 300.55,60.20 C301.07,60.20 301.68,60.67 302.10,61.00 C302.46,61.29 302.71,61.66 302.97,62.00 C303.21,62.32 303.38,62.63 303.60,63.00 C303.86,63.45 304.16,63.97 304.40,64.50 C304.66,65.07 304.87,65.68 305.10,66.30 C305.35,66.97 305.55,67.53 305.85,68.40 C306.33,69.81 307.12,71.97 307.65,74.00 C308.26,76.35 308.71,79.26 309.20,81.70 C309.64,83.90 310.04,85.84 310.45,88.00 C310.88,90.29 311.26,92.36 311.70,95.10 C312.30,98.86 313.10,103.91 313.60,108.50 C314.13,113.33 314.35,118.15 314.75,123.40 C315.20,129.28 315.66,135.55 316.15,142.10 C316.69,149.35 317.25,157.75 317.85,165.00 C318.39,171.58 319.11,177.76 319.55,183.80 C319.96,189.40 320.23,194.70 320.45,200.00 C320.66,205.09 320.78,210.18 320.85,215.00 C320.92,219.49 320.75,223.59 320.90,228.00 C321.06,232.58 321.49,237.73 321.80,242.00 C322.06,245.61 322.20,248.61 322.60,252.00 C323.02,255.54 323.82,262.81 324.30,262.80 C324.80,262.79 325.13,254.87 325.50,251.00 C325.86,247.27 325.90,243.23 326.50,240.00 C326.99,237.38 327.62,235.25 328.50,233.00 C329.38,230.75 330.80,229.05 331.80,226.50 C333.11,223.16 334.10,218.21 335.20,214.50 C336.16,211.28 337.01,207.90 338.00,205.50 C338.70,203.80 339.36,202.16 340.20,201.30 C340.75,200.73 341.40,200.24 342.00,200.30 C342.67,200.37 343.42,201.11 344.00,202.00 C345.01,203.54 345.54,207.04 346.30,209.50 C347.04,211.87 347.84,213.91 348.50,216.50 C349.30,219.63 349.99,223.41 350.60,227.00 C351.23,230.74 351.53,238.45 352.20,238.50 C352.67,238.53 353.28,235.01 353.80,233.00 C354.42,230.59 354.92,227.40 355.60,225.00 C356.17,222.98 356.58,220.16 357.50,219.50 C358.01,219.14 358.79,219.14 359.30,219.50 C360.20,220.13 360.60,222.75 361.20,224.70 C361.95,227.13 362.57,230.22 363.30,233.00 C364.04,235.82 365.10,241.55 365.60,241.50 C366.18,241.44 366.09,233.95 366.30,230.00 C366.52,225.80 366.69,221.15 366.90,217.00 C367.09,213.18 367.27,209.75 367.50,206.00 C367.75,202.09 368.04,198.19 368.35,194.00 C368.70,189.39 369.11,184.33 369.50,179.50 C369.89,174.67 370.27,170.38 370.70,165.00 C371.24,158.24 371.82,149.34 372.45,142.10 C373.02,135.55 373.65,129.28 374.25,123.40 C374.78,118.15 375.19,113.33 375.85,108.50 C376.48,103.91 377.44,98.86 378.10,95.10 C378.58,92.36 378.91,90.29 379.40,88.00 C379.87,85.83 380.43,83.91 380.95,81.70 C381.53,79.26 382.01,76.34 382.70,74.00 C383.30,71.96 384.17,69.87 384.75,68.40 C385.13,67.43 385.40,66.76 385.76,66.00 C386.09,65.30 386.44,64.61 386.80,64.00 C387.12,63.45 387.47,62.94 387.80,62.50 C388.08,62.12 388.35,61.79 388.65,61.50 C388.93,61.23 389.17,61.00 389.52,60.80 C389.95,60.55 390.57,60.20 391.10,60.20 C391.63,60.20 392.25,60.55 392.68,60.80 C393.03,61.00 393.27,61.23 393.55,61.50 C393.85,61.79 394.12,62.12 394.40,62.50 C394.73,62.94 395.08,63.45 395.40,64.00 C395.76,64.61 396.11,65.30 396.44,66.00 C396.80,66.76 397.07,67.43 397.45,68.40 C398.03,69.87 398.90,71.96 399.50,74.00 C400.19,76.34 400.67,79.26 401.25,81.70 C401.77,83.91 402.33,85.83 402.80,88.00 C403.29,90.29 403.62,92.36 404.10,95.10 C404.76,98.86 405.72,103.91 406.35,108.50 C407.01,113.33 407.42,118.15 407.95,123.40 C408.55,129.28 409.18,135.55 409.75,142.10 C410.38,149.34 410.96,158.24 411.50,165.00 C411.93,170.38 412.31,174.67 412.70,179.50 C413.09,184.33 413.49,189.17 413.85,194.00 C414.21,198.83 414.52,203.67 414.85,208.50 C415.17,213.33 415.57,216.99 415.80,223.00 C416.17,232.84 415.95,250.71 416.20,262.00 C416.40,270.67 416.76,277.51 417.00,285.00 C417.23,292.16 417.33,306.00 417.60,306.00 C417.87,306.00 418.31,292.16 418.60,285.00 C418.91,277.51 419.11,269.58 419.40,262.00 C419.68,254.58 419.85,246.62 420.30,240.00 C420.67,234.55 421.17,230.35 421.70,225.10 C422.29,219.22 422.60,210.29 423.70,206.40 C424.23,204.51 424.78,203.25 425.60,202.40 C426.20,201.78 426.99,201.22 427.70,201.30 C428.55,201.39 429.53,202.43 430.30,203.50 C431.44,205.07 432.23,207.63 433.10,210.40 C434.33,214.34 435.58,220.80 436.40,225.10 C437.03,228.43 437.21,231.04 437.80,234.00 C438.40,237.00 438.99,240.36 440.00,243.00 C440.86,245.26 442.16,248.99 443.20,249.00 C444.16,249.01 445.17,245.96 446.00,244.00 C447.07,241.49 447.68,237.81 448.70,235.00 C449.63,232.44 450.62,229.57 451.80,227.80 C452.63,226.55 453.59,225.50 454.50,225.00 C455.16,224.64 455.87,224.36 456.50,224.60 C457.41,224.95 458.22,226.50 459.00,228.00 C460.22,230.32 461.10,234.53 462.30,237.60 C463.44,240.52 464.73,243.30 466.00,246.00 C467.20,248.56 468.53,251.17 469.70,253.40 C470.68,255.27 471.45,257.24 472.50,258.50 C473.30,259.45 474.29,260.69 475.10,260.60 C475.97,260.50 476.83,258.80 477.50,257.50 C478.39,255.77 478.81,253.27 479.50,250.90 C480.30,248.16 481.19,245.01 482.00,242.00 C482.83,238.91 483.51,235.78 484.40,232.60 C485.33,229.28 486.26,225.73 487.50,222.50 C488.70,219.37 490.25,216.16 491.70,213.50 C492.93,211.25 494.18,209.24 495.50,207.50 C496.63,206.01 497.64,204.74 499.00,203.60 C500.45,202.39 502.11,201.32 504.00,200.50 C506.14,199.56 508.53,198.95 511.30,198.50 C514.82,197.92 519.58,197.93 523.50,197.80 C527.13,197.68 530.50,197.73 534.00,197.70" fill="none" stroke="#00ff00" stroke-width="3.5" stroke-dasharray="13.2 12.9"/>
</g>
<rect x="67.75" y="21.1" width="466.40" height="364.40" fill="none" stroke="#262626" stroke-width="1.2"/>
<line x1="93.66" y1="385.5" x2="93.66" y2="380.5" stroke="#262626" stroke-width="1.2"/>
<line x1="93.66" y1="21.1" x2="93.66" y2="26.1" stroke="#262626" stroke-width="1.2"/>
<line x1="145.48" y1="385.5" x2="145.48" y2="380.5" stroke="#262626" stroke-width="1.2"/>
<line x1="145.48" y1="21.1" x2="145.48" y2="26.1" stroke="#262626" stroke-width="1.2"/>
<line x1="197.31" y1="385.5" x2="197.31" y2="380.5" stroke="#262626" stroke-width="1.2"/>
<line x1="197.31" y1="21.1" x2="197.31" y2="26.1" stroke="#262626" stroke-width="1.2"/>
<line x1="249.13" y1="385.5" x2="249.13" y2="380.5" stroke="#262626" stroke-width="1.2"/>
<line x1="249.13" y1="21.1" x2="249.13" y2="26.1" stroke="#262626" stroke-width="1.2"/>
<line x1="300.95" y1="385.5" x2="300.95" y2="380.5" stroke="#262626" stroke-width="1.2"/>
<line x1="300.95" y1="21.1" x2="300.95" y2="26.1" stroke="#262626" stroke-width="1.2"/>
<line x1="352.77" y1="385.5" x2="352.77" y2="380.5" stroke="#262626" stroke-width="1.2"/>
<line x1="352.77" y1="21.1" x2="352.77" y2="26.1" stroke="#262626" stroke-width="1.2"/>
<line x1="404.59" y1="385.5" x2="404.59" y2="380.5" stroke="#262626" stroke-width="1.2"/>
<line x1="404.59" y1="21.1" x2="404.59" y2="26.1" stroke="#262626" stroke-width="1.2"/>
<line x1="456.42" y1="385.5" x2="456.42" y2="380.5" stroke="#262626" stroke-width="1.2"/>
<line x1="456.42" y1="21.1" x2="456.42" y2="26.1" stroke="#262626" stroke-width="1.2"/>
<line x1="508.24" y1="385.5" x2="508.24" y2="380.5" stroke="#262626" stroke-width="1.2"/>
<line x1="508.24" y1="21.1" x2="508.24" y2="26.1" stroke="#262626" stroke-width="1.2"/>
<line x1="67.75" y1="21.10" x2="72.75" y2="21.10" stroke="#262626" stroke-width="1.2"/>
<line x1="534.15" y1="21.10" x2="529.15" y2="21.10" stroke="#262626" stroke-width="1.2"/>
<line x1="67.75" y1="61.59" x2="72.75" y2="61.59" stroke="#262626" stroke-width="1.2"/>
<line x1="534.15" y1="61.59" x2="529.15" y2="61.59" stroke="#262626" stroke-width="1.2"/>
<line x1="67.75" y1="102.08" x2="72.75" y2="102.08" stroke="#262626" stroke-width="1.2"/>
<line x1="534.15" y1="102.08" x2="529.15" y2="102.08" stroke="#262626" stroke-width="1.2"/>
<line x1="67.75" y1="142.57" x2="72.75" y2="142.57" stroke="#262626" stroke-width="1.2"/>
<line x1="534.15" y1="142.57" x2="529.15" y2="142.57" stroke="#262626" stroke-width="1.2"/>
<line x1="67.75" y1="183.06" x2="72.75" y2="183.06" stroke="#262626" stroke-width="1.2"/>
<line x1="534.15" y1="183.06" x2="529.15" y2="183.06" stroke="#262626" stroke-width="1.2"/>
<line x1="67.75" y1="223.54" x2="72.75" y2="223.54" stroke="#262626" stroke-width="1.2"/>
<line x1="534.15" y1="223.54" x2="529.15" y2="223.54" stroke="#262626" stroke-width="1.2"/>
<line x1="67.75" y1="264.03" x2="72.75" y2="264.03" stroke="#262626" stroke-width="1.2"/>
<line x1="534.15" y1="264.03" x2="529.15" y2="264.03" stroke="#262626" stroke-width="1.2"/>
<line x1="67.75" y1="304.52" x2="72.75" y2="304.52" stroke="#262626" stroke-width="1.2"/>
<line x1="534.15" y1="304.52" x2="529.15" y2="304.52" stroke="#262626" stroke-width="1.2"/>
<line x1="67.75" y1="345.01" x2="72.75" y2="345.01" stroke="#262626" stroke-width="1.2"/>
<line x1="534.15" y1="345.01" x2="529.15" y2="345.01" stroke="#262626" stroke-width="1.2"/>
<line x1="67.75" y1="385.50" x2="72.75" y2="385.50" stroke="#262626" stroke-width="1.2"/>
<line x1="534.15" y1="385.50" x2="529.15" y2="385.50" stroke="#262626" stroke-width="1.2"/>
<text x="93.06" y="410.8" text-anchor="middle" class="tk">-80</text>
<text x="144.88" y="410.8" text-anchor="middle" class="tk">-60</text>
<text x="196.71" y="410.8" text-anchor="middle" class="tk">-40</text>
<text x="248.53" y="410.8" text-anchor="middle" class="tk">-20</text>
<text x="300.95" y="410.8" text-anchor="middle" class="tk">0</text>
<text x="352.77" y="410.8" text-anchor="middle" class="tk">20</text>
<text x="404.59" y="410.8" text-anchor="middle" class="tk">40</text>
<text x="456.42" y="410.8" text-anchor="middle" class="tk">60</text>
<text x="508.24" y="410.8" text-anchor="middle" class="tk">80</text>
<text x="61.1" y="28.80" text-anchor="end" class="tk">5</text>
<text x="61.1" y="69.29" text-anchor="end" class="tk">0</text>
<text x="61.1" y="109.78" text-anchor="end" class="tk">-5</text>
<text x="61.1" y="150.27" text-anchor="end" class="tk">-10</text>
<text x="61.1" y="190.76" text-anchor="end" class="tk">-15</text>
<text x="61.1" y="231.24" text-anchor="end" class="tk">-20</text>
<text x="61.1" y="271.73" text-anchor="end" class="tk">-25</text>
<text x="61.1" y="312.22" text-anchor="end" class="tk">-30</text>
<text x="61.1" y="352.71" text-anchor="end" class="tk">-35</text>
<text x="61.1" y="393.20" text-anchor="end" class="tk">-40</text>
<text x="262.9" y="435.2" class="al" letter-spacing="0.3">Angle</text>
<text x="319.6" y="435.2" class="al">(</text>
<text x="328.1" y="435.4" class="deg">°</text>
<text x="343.4" y="435.2" class="al" text-anchor="end">)</text>
<text transform="translate(26.9,204.2) rotate(-90)" x="0" y="0" text-anchor="middle" class="al" letter-spacing="0.38">Transmit beampattern (dB)</text>
<rect x="408.4" y="35.3" width="111.90" height="87.40" fill="#fff" stroke="#262626" stroke-width="1.1"/>
<line x1="412.9" y1="47.4" x2="451.9" y2="47.4" stroke="#000" stroke-width="3.5" stroke-dasharray="13.1 12.8"/>
<line x1="412.8" y1="68.6" x2="456.0" y2="68.6" stroke="#ff0000" stroke-width="3.5"/>
<line x1="412.8" y1="89.8" x2="456.0" y2="89.8" stroke="#0000ff" stroke-width="3.3" stroke-dasharray="3.2 3.3"/>
<line x1="412.9" y1="111.0" x2="452.1" y2="111.0" stroke="#00ff00" stroke-width="3.5" stroke-dasharray="13.3 12.6"/>
<text x="460.0" y="53.199999999999996" class="lg">Desired</text>
<text x="459.0" y="74.69999999999999" class="eps">ϵ</text>
<text x="471.0" y="74.39999999999999" class="lg">=</text>
<text x="484.3" y="74.39999999999999" class="lg" letter-spacing="0.3">0.03</text>
<text x="459.0" y="95.89999999999999" class="eps">ϵ</text>
<text x="471.0" y="95.6" class="lg">=</text>
<text x="484.3" y="95.6" class="lg" letter-spacing="0.3">0.05</text>
<text x="459.0" y="117.1" class="eps">ϵ</text>
<text x="471.0" y="116.8" class="lg">=</text>
<text x="484.3" y="116.8" class="lg" letter-spacing="0.3">0.07</text>
</svg>
</body></html>
